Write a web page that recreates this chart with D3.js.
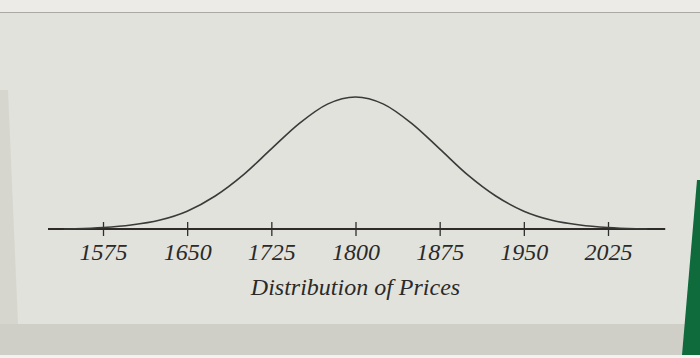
<!DOCTYPE html>
<html>
<head>
<meta charset="utf-8">
<script src="https://cdn.jsdelivr.net/npm/d3@7/dist/d3.min.js"></script>
<style>
  html, body { margin: 0; padding: 0; background: #e2e2da; }
  svg { display: block; }
</style>
</head>
<body>
<svg id="chart" width="700" height="358"></svg>
<script>
// Price values (x) and relative curve heights (peak = 1)
const prices = [1540, 1550, 1575, 1600, 1625, 1650, 1675, 1700, 1725, 1750, 1775, 1800,
                1825, 1850, 1875, 1900, 1925, 1950, 1975, 2000, 2025, 2050, 2060];
const heights = [0.000, 0.002, 0.011, 0.03, 0.066, 0.135, 0.25, 0.41, 0.607, 0.80, 0.946, 1.00,
                 0.946, 0.80, 0.607, 0.41, 0.25, 0.135, 0.066, 0.03, 0.011, 0.002, 0.000];
const tickValues = [1575, 1650, 1725, 1800, 1875, 1950, 2025];
const tickLabels = ["1575", "1650", "1725", "1800", "1875", "1950", "2025"];
const axisTitle = "Distribution of Prices";

const svg = d3.select("#chart");

// photo-like background panels
svg.append("rect").attr("x", 0).attr("y", 0).attr("width", 700).attr("height", 358).attr("fill", "#e2e2dc");
svg.append("rect").attr("x", 0).attr("y", 0).attr("width", 700).attr("height", 13).attr("fill", "#ecebe8");
svg.append("line").attr("x1", 0).attr("x2", 700).attr("y1", 12.5).attr("y2", 12.5).attr("stroke", "#aaa9a6").attr("stroke-width", 1);
svg.append("path").attr("d", "M0,90 L8,90 L18,324 L0,324 Z").attr("fill", "#d6d6cf");
svg.append("rect").attr("x", 0).attr("y", 324).attr("width", 700).attr("height", 31).attr("fill", "#cfcfc8");
svg.append("rect").attr("x", 0).attr("y", 355).attr("width", 700).attr("height", 3).attr("fill", "#f2f2f0");
svg.append("path").attr("d", "M697,180 L700,180 L700,355 L682,355 Z").attr("fill", "#0f6a3c");

const x = d3.scaleLinear().domain([1575, 2025]).range([103, 608]);
const y = d3.scaleLinear().domain([0, 1]).range([229, 97]);

// axis
const axis = d3.axisBottom(x)
  .tickValues(tickValues)
  .tickFormat((d, i) => tickLabels[i])
  .tickSize(0)
  .tickPadding(0);
const gAxis = svg.append("g").attr("transform", "translate(0,229)").call(axis);
gAxis.select(".domain").remove();
gAxis.selectAll(".tick line").remove();
gAxis.selectAll(".tick").append("line")
  .attr("y1", -7).attr("y2", 7)
  .attr("stroke", "#2e2e2e").attr("stroke-width", 1.3);
gAxis.selectAll(".tick text")
  .attr("y", 31)
  .attr("dy", null)
  .attr("fill", "#2a2a2a")
  .attr("font-family", "'Liberation Serif', 'DejaVu Serif', serif")
  .attr("font-style", "italic")
  .attr("font-size", 24);

svg.append("line")
  .attr("x1", x(1526)).attr("x2", x(2076))
  .attr("y1", 229).attr("y2", 229)
  .attr("stroke", "#2e2a28").attr("stroke-width", 2);

// curve
const line = d3.line()
  .x((d, i) => x(prices[i]))
  .y((d, i) => y(heights[i]))
  .curve(d3.curveMonotoneX);
svg.append("path")
  .datum(prices)
  .attr("d", line)
  .attr("fill", "none")
  .attr("stroke", "#3a3a3a")
  .attr("stroke-width", 1.6);

// axis title
svg.append("text")
  .attr("x", x(1800))
  .attr("y", 295)
  .attr("text-anchor", "middle")
  .attr("fill", "#2a2a2a")
  .attr("font-family", "'Liberation Serif', 'DejaVu Serif', serif")
  .attr("font-style", "italic")
  .attr("font-size", 24)
  .text(axisTitle);
</script>
</body>
</html>
